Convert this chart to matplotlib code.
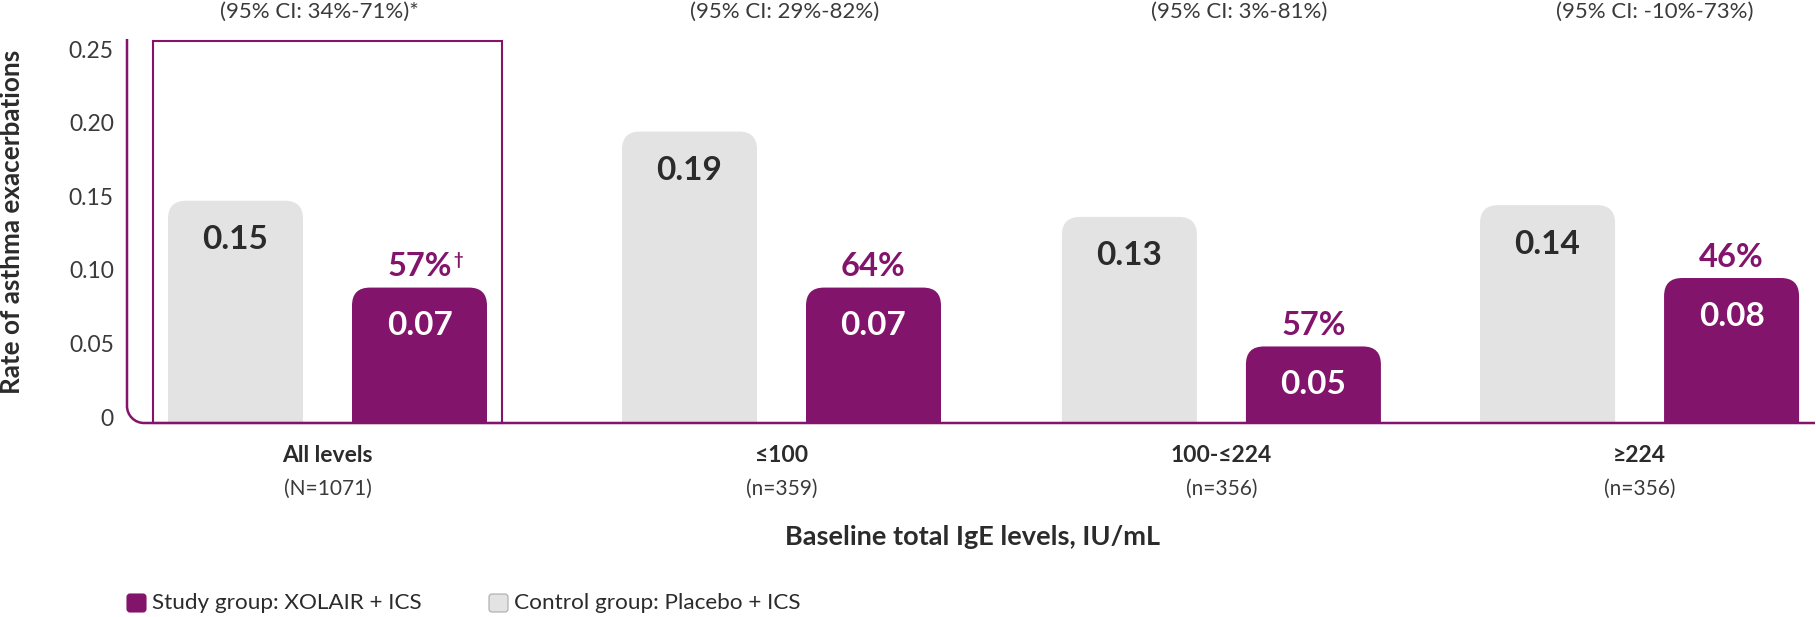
import matplotlib
matplotlib.use('Agg')
import matplotlib.pyplot as plt
from matplotlib.patches import FancyBboxPatch, Rectangle, PathPatch
from matplotlib.path import Path
from matplotlib.transforms import ScaledTranslation, blended_transform_factory, IdentityTransform

# ---------------- data ----------------
categories = ['All levels', '≤100', '100-≤224', '≥224']
category_n = ['(N=1071)', '(n=359)', '(n=356)', '(n=356)']
ci_labels = ['(95% CI: 34%-71%)*', '(95% CI: 29%-82%)', '(95% CI: 3%-81%)', '(95% CI: -10%-73%)']
placebo_height = [0.151, 0.198, 0.140, 0.148]     # bar heights as drawn
xolair_height = [0.092, 0.092, 0.052, 0.0985]
placebo_labels = ['0.15', '0.19', '0.13', '0.14']
xolair_labels = ['0.07', '0.07', '0.05', '0.08']
reduction_labels = ['57%', '64%', '57%', '46%']
reduction_marks = ['†', '', '', '']
yticks = [0, 0.05, 0.10, 0.15, 0.20, 0.25]
ytick_labels = ['0', '0.05', '0.10', '0.15', '0.20', '0.25']
legend_labels = ['Study group: XOLAIR + ICS', 'Control group: Placebo + ICS']
xlabel = 'Baseline total IgE levels, IU/mL'
ylabel = 'Rate of asthma exacerbations'

# ---------------- style / layout ----------------
PURPLE = '#83146C'
GRAY = '#E3E3E3'
DARK = '#2B2B2B'
TICKC = '#3A3A3A'
plt.rcParams['font.family'] = ['Lato', 'DejaVu Sans']

W, H, DPI = 1816, 617, 100
fig = plt.figure(figsize=(W / DPI, H / DPI), dpi=DPI)
fig.patch.set_facecolor('white')

ax_l, ax_r, ax_b, ax_t = 127, 1815, 423, 41          # pixel frame of the plot area
ax = fig.add_axes([ax_l / W, (H - ax_b) / H, (ax_r - ax_l) / W, (ax_b - ax_t) / H])
px_per_y = 1472.0
ymax = (ax_b - ax_t) / px_per_y
group_pos = [0.0, 1.0, 1.969, 2.890]
ci_shift_px = [-8, 3, 18, 15]
px_per_x = 454.0
xmin = -(327.5 - ax_l) / px_per_x
xmax = xmin + (ax_r - ax_l) / px_per_x
ax.set_xlim(xmin, xmax)
ax.set_ylim(0, ymax)
for s in ax.spines.values():
    s.set_visible(False)
ax.set_facecolor('none')

bar_off = 92 / px_per_x
bar_w = 135 / px_per_x
r_px = 18
r_x = r_px / px_per_x
aspect = (1 / px_per_y) / (1 / px_per_x)
r_y = r_x * aspect


def rounded_bar(xc, h, color):
    p = FancyBboxPatch((xc - bar_w / 2, -r_y * 1.5), bar_w, h + r_y * 1.5,
                       boxstyle=f'round,pad=0,rounding_size={r_x}',
                       mutation_aspect=aspect, facecolor=color, edgecolor='none',
                       zorder=2)
    ax.add_patch(p)


for i, g in enumerate(group_pos):
    xp = g - bar_off
    xx = g + bar_off
    rounded_bar(xp, placebo_height[i], GRAY)
    rounded_bar(xx, xolair_height[i], PURPLE)
    ax.annotate(placebo_labels[i], xy=(xp, placebo_height[i]), xytext=(0, -39 * 0.72),
                textcoords='offset points', ha='center', va='center',
                fontsize=24, fontweight='bold', color=DARK, zorder=4)
    ax.annotate(xolair_labels[i], xy=(xx, xolair_height[i]), xytext=(0, -38 * 0.72),
                textcoords='offset points', ha='center', va='center',
                fontsize=24, fontweight='bold', color='white', zorder=4)
    t = ax.annotate(reduction_labels[i], xy=(xx, xolair_height[i]), xytext=(0, 21 * 0.72),
                    textcoords='offset points', ha='center', va='center',
                    fontsize=23.5, fontweight='bold', color=PURPLE, zorder=4)
    if reduction_marks[i]:
        ax.annotate(reduction_marks[i], xy=(1, 1), xycoords=t, xytext=(1.5, 0),
                    textcoords='offset points', ha='left', va='top',
                    fontsize=12, fontweight='bold', color=PURPLE)

# highlight box around first group
box_half = 0.385
ax.add_patch(Rectangle((group_pos[0] - box_half, 0), 2 * box_half, ymax,
                       fill=False, edgecolor=PURPLE, linewidth=1.5, clip_on=False, zorder=3))

# custom L-shaped axis with rounded corner (display pixels)
rc = 17
k = 0.5523 * rc
yb = H - ax_b
verts = [(ax_l, H - 39), (ax_l, yb + rc),
         (ax_l, yb + rc - k), (ax_l + rc - k, yb), (ax_l + rc, yb),
         (ax_r, yb)]
codes = [Path.MOVETO, Path.LINETO, Path.CURVE4, Path.CURVE4, Path.CURVE4, Path.LINETO]
fig.add_artist(PathPatch(Path(verts, codes), transform=IdentityTransform(),
                         fill=False, edgecolor=PURPLE, linewidth=1.8, zorder=5,
                         capstyle='butt'))

# y ticks
ax.set_xticks([])
ax.set_yticks(yticks, ytick_labels)
ax.tick_params(axis='y', length=0, pad=9.5, labelsize=16.5, labelcolor=TICKC)
for lbl in ax.get_yticklabels():
    lbl.set_transform(lbl.get_transform() + ScaledTranslation(0, 6 / DPI, fig.dpi_scale_trans))

# category labels
bt = blended_transform_factory(ax.transData, fig.transFigure)
for i, g in enumerate(group_pos):
    ax.text(g, 1 - 455 / H, categories[i], transform=bt, ha='center', va='center',
            fontsize=16.5, fontweight='bold', color=DARK, clip_on=False)
    ax.text(g, 1 - 489 / H, category_n[i], transform=bt, ha='center', va='center',
            fontsize=15, color=TICKC, clip_on=False)
    ax.text(g + ci_shift_px[i] / px_per_x, 1 - 12 / H, ci_labels[i], transform=bt,
            ha='center', va='center', fontsize=16, color=TICKC, clip_on=False)

fig.text(972 / W, 1 - 537 / H, xlabel, ha='center', va='center',
         fontsize=19.5, fontweight='bold', color=DARK)
fig.text(12 / W, 1 - 222 / H, ylabel, rotation=90, ha='center', va='center',
         fontsize=18.8, fontweight='bold', color=DARK)

# legend
leg_items = [(127, PURPLE, PURPLE, legend_labels[0]), (489, GRAY, '#AAAAAA', legend_labels[1])]
for x0, fc, ec, lab in leg_items:
    sq = FancyBboxPatch((x0, H - 612), 19, 18, boxstyle='round,pad=0,rounding_size=3',
                        facecolor=fc, edgecolor=ec, linewidth=0.8,
                        transform=IdentityTransform())
    fig.add_artist(sq)
    fig.text((x0 + 25) / W, 1 - 603 / H, lab, ha='left', va='center',
             fontsize=16.2, color=DARK)

fig.savefig('out.png', dpi=DPI, facecolor='white')
